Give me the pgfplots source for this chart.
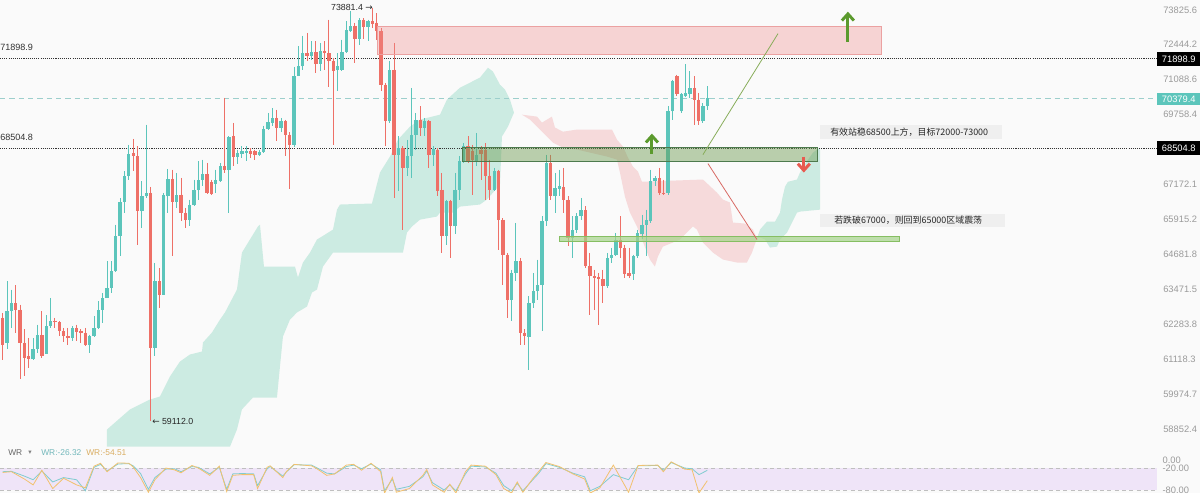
\documentclass[border=0pt]{standalone}
\usepackage{pgfplots}
\pgfplotsset{compat=1.18}
\usepackage{pgfplotstable}
\usepackage{fontspec}
\setmainfont{Liberation Sans}
\newfontfamily\cjk{Noto Sans CJK SC}
\newfontfamily\dejavu{DejaVu Sans}
\usetikzlibrary{arrows.meta}
\definecolor{bg}{HTML}{FAFAFA}
\definecolor{up}{HTML}{5CC5BB}
\definecolor{dn}{HTML}{EE7067}
\definecolor{gcloud}{HTML}{CCEBE2}
\definecolor{rcloud}{HTML}{F6DADB}
\definecolor{tickc}{HTML}{9A9A9A}
\definecolor{wrteal}{HTML}{80CCD0}
\definecolor{wrorange}{HTML}{F2C16E}
\definecolor{wrband}{HTML}{EFE4F8}
\definecolor{garrow}{HTML}{5B9A2D}
\definecolor{rarrow}{HTML}{E85A50}
\definecolor{rrect}{HTML}{F08C8C}
\definecolor{rrectb}{HTML}{EBA1A1}
\definecolor{grect}{HTML}{6A9A4F}
\definecolor{grectb}{HTML}{4D7A4D}
\definecolor{lgbar}{HTML}{A5D38A}
\definecolor{lgbarb}{HTML}{86BE62}
\definecolor{boxgray}{HTML}{EFEFEF}
\definecolor{dashteal}{HTML}{9DCFCC}

% candle segments: per candle rows (high, open) / (low, close) / break
\pgfplotstableread{
i w b
2 63759 61675
2 61451 62735
2 nan nan
3 63472 62735
3 62174 62997
3 nan nan
8 61842 61141
8 61118 61474
8 nan nan
9 62284 61451
9 61342 61918
9 nan nan
11 62589 61318
11 61285 62251
11 nan nan
12 63190 62251
12 62174 62396
12 nan nan
17 62227 61842
17 61728 62174
17 nan nan
21 61951 61618
21 61342 61894
21 nan nan
22 62566 61894
22 61874 62174
22 nan nan
23 63074 62174
23 62118 62793
23 nan nan
24 63360 62793
24 62342 63190
24 nan nan
25 64450 63190
25 63170 63531
25 nan nan
26 64450 63531
26 63360 64104
26 nan nan
27 65739 64104
27 64080 65327
27 nan nan
28 66694 65327
28 64623 66537
28 nan nan
29 67659 66537
29 66156 67501
29 nan nan
30 68639 67501
30 67355 68307
30 nan nan
33 67293 66213
33 65623 66752
33 nan nan
34 69385 66752
34 66700 66873
34 nan nan
36 64393 61507
36 61228 63759
36 nan nan
38 66873 63302
38 63280 66813
38 nan nan
39 67746 66752
39 66156 67391
39 nan nan
41 67600 66550
41 66335 66813
41 nan nan
44 66633 65915
44 65679 66454
44 nan nan
45 67355 66454
45 66393 66992
45 nan nan
46 68025 66967
46 66633 67355
46 nan nan
47 68087 67355
47 67111 67575
47 nan nan
50 67721 67209
50 66873 67355
50 nan nan
51 67966 67293
51 67256 67842
51 nan nan
53 68950 67695
53 66156 68925
53 nan nan
55 68453 68185
55 67941 68331
55 nan nan
56 68576 68307
56 68148 68391
56 nan nan
57 68576 68331
57 68025 68391
57 nan nan
60 68453 68270
60 68208 68355
60 nan nan
61 69348 68355
61 68331 69225
61 nan nan
62 69823 69225
62 69173 69471
62 nan nan
63 70013 69448
63 69348 69635
63 nan nan
65 69635 69262
65 69098 69509
65 nan nan
68 71581 68639
68 68553 71244
68 nan nan
69 72378 71244
69 71218 71604
69 nan nan
70 72799 71604
70 71476 72121
70 nan nan
72 72574 72018
72 71863 72145
72 nan nan
74 72511 71709
74 71410 72184
74 nan nan
78 72121 71476
78 70644 71604
78 nan nan
79 72641 71476
79 71410 72145
79 nan nan
80 73364 72145
80 72121 73036
80 nan nan
81 73780 72969
81 72930 73194
81 nan nan
83 73498 72668
83 72444 73431
83 nan nan
85 73431 73143
85 72574 73364
85 nan nan
90 71797 69509
90 69448 71476
90 nan nan
92 68950 68270
92 66931 68516
92 nan nan
94 68826 67782
94 67476 68208
94 nan nan
95 70774 68208
95 67416 69012
95 nan nan
96 69823 69012
96 68453 69572
96 nan nan
98 69635 69262
98 68950 69509
98 nan nan
100 68576 68270
100 67842 68478
100 nan nan
103 66633 65327
103 65034 66572
103 nan nan
105 67600 65679
105 65387 66992
105 nan nan
106 68208 66992
106 66633 68025
106 nan nan
107 68702 68025
107 67966 68576
107 nan nan
110 69075 68025
110 67842 68270
110 nan nan
114 67782 66992
114 66931 67659
114 nan nan
118 64163 63132
118 62396 64048
118 nan nan
119 65799 64048
119 63759 64450
119 nan nan
122 63244 61874
122 60791 63020
122 nan nan
123 64048 62997
123 62851 63414
123 nan nan
124 64509 63414
124 63132 63645
124 nan nan
125 66034 63645
125 62061 65855
125 nan nan
126 68270 65855
126 65679 67966
126 nan nan
128 67600 66752
128 66156 67054
128 nan nan
129 67721 67018
129 66752 67111
129 nan nan
132 66034 65270
132 64567 65563
132 nan nan
133 66156 65563
133 65446 66034
133 nan nan
134 66694 66034
134 65915 66249
134 nan nan
140 64741 63586
140 63531 64567
140 nan nan
141 64917 64567
141 64393 64682
141 nan nan
142 65446 64682
142 64623 65186
142 nan nan
146 64682 63990
146 63818 64623
146 nan nan
147 65563 64623
147 64567 65446
147 nan nan
148 66095 65387
148 65211 65739
148 nan nan
149 66274 65739
149 64623 65915
149 nan nan
150 67721 65855
150 65799 67293
150 nan nan
151 67476 67293
151 67111 67416
151 nan nan
154 70073 66873
154 66813 69884
154 nan nan
155 71089 69884
155 69572 71024
155 nan nan
157 70583 69884
157 69823 70519
157 nan nan
158 71670 70454
158 70420 70583
158 nan nan
159 71410 70519
159 70394 70774
159 nan nan
162 70201 69509
162 69448 70073
162 nan nan
163 70834 70073
163 69948 70379.4
163 nan nan
}\upc

\pgfplotstableread{
i w b
1 62681 62512
1 61118 61618
1 nan nan
4 63611 62997
4 62008 62793
4 nan nan
5 62963 62793
5 60465 61675
5 nan nan
6 62118 61675
6 60572 61175
6 nan nan
7 61842 61228
7 60847 61141
7 nan nan
10 62735 61918
10 61175 61228
10 nan nan
13 62512 62420
13 62174 62362
13 nan nan
14 62396 62362
14 61894 62061
14 nan nan
15 62174 62061
15 61695 61894
15 nan nan
16 62174 61894
16 61618 61828
16 nan nan
18 62284 62174
18 61728 62028
18 nan nan
19 62118 62051
19 61675 62008
19 nan nan
20 62174 62008
20 61562 61618
20 nan nan
31 68852 68331
31 67659 68208
31 nan nan
32 68576 68208
32 65034 66213
32 nan nan
35 67089 66873
35 59112 61507
35 nan nan
37 64221 63759
37 62851 63302
37 nan nan
40 67721 67391
40 64623 66550
40 nan nan
42 67416 66813
42 65855 66156
42 nan nan
43 66335 66156
43 65623 65915
43 nan nan
48 67966 67575
48 66849 66873
48 nan nan
49 67355 67256
49 66813 66849
49 nan nan
52 70394 67842
52 67600 67695
52 nan nan
54 69448 68950
54 67842 68185
54 nan nan
58 68516 68391
58 68148 68307
58 nan nan
59 68453 68391
59 68087 68270
59 nan nan
64 69948 69635
64 68763 69262
64 nan nan
66 69572 69509
66 68208 69012
66 nan nan
67 69098 69012
67 67018 68639
67 nan nan
71 72906 72121
71 71797 72018
71 nan nan
73 72574 72145
73 71348 71709
73 nan nan
75 72574 72184
75 71476 72121
75 nan nan
76 73431 72121
76 70812 71797
76 nan nan
77 71929 71797
77 68639 71410
77 nan nan
82 73301 73194
82 71734 72668
82 nan nan
84 73498 73431
84 72668 73143
84 nan nan
86 73881.4 73364
86 73103 73273
86 nan nan
87 73696 73301
87 72641 72969
87 nan nan
88 73103 72969
88 70644 70899
88 nan nan
89 70964 70899
89 68576 69509
89 nan nan
91 72511 71476
91 66694 68270
91 nan nan
93 68576 68516
93 65563 67782
93 nan nan
97 70073 69572
97 68950 69262
97 nan nan
99 69540 69509
99 67782 68270
99 nan nan
101 68516 68453
101 66752 66931
101 nan nan
102 67600 66992
102 64741 65327
102 nan nan
104 66633 66572
104 64567 65679
104 nan nan
108 68950 68576
108 67966 68025
108 nan nan
109 68639 68400
109 66813 68050
109 nan nan
111 68576 68453
111 67355 68307
111 nan nan
112 68702 68453
112 66633 67501
112 nan nan
113 68087 67501
113 66633 66992
113 nan nan
115 67721 67659
115 64858 65915
115 nan nan
116 65975 65915
116 63645 64682
116 nan nan
117 64741 64682
117 62512 63132
117 nan nan
120 64567 64450
120 61618 62008
120 nan nan
121 62118 62008
121 61618 61894
121 nan nan
127 68270 67966
127 66633 66752
127 nan nan
130 67782 67089
130 66156 66633
130 nan nan
131 66752 66633
131 64974 65270
131 nan nan
135 66393 66249
135 64221 64277
135 nan nan
136 64741 64277
136 62623 63932
136 nan nan
137 64163 63932
137 62793 63877
137 nan nan
138 64048 63910
138 62284 63840
138 nan nan
139 64163 63840
139 63020 63586
139 nan nan
143 66034 65186
143 64567 64917
143 nan nan
144 65034 64917
144 63877 63990
144 nan nan
145 64917 64048
145 63877 63956
145 nan nan
152 67782 67416
152 66813 66873
152 nan nan
153 67355 66873
153 66813 66830
153 nan nan
156 71283 71218
156 70454 70519
156 nan nan
160 71218 70774
160 69385 70329
160 nan nan
161 70583 70329
161 69385 69509
161 nan nan
}\dnc

\begin{document}
\begin{tikzpicture}
\fill[bg] (0,0) rectangle (900pt,369.75pt);

\begin{axis}[
  at={(0pt,369.75pt)}, anchor=north west,
  scale only axis, width=867.75pt, height=335.25pt,
  xmin=0.379, xmax=266.4, ymin=58308, ymax=74225,
  ymode=log,
  axis line style={draw=none},
  xtick=\empty,
  ytick={58852.4,59974.7,61118.3,62283.8,63471.5,64681.8,65915.2,67172.1,69758.4,71088.6,72444.2,73825.6},
  yticklabels={58852.4,59974.7,61118.3,62283.8,63471.5,64681.8,65915.2,67172.1,69758.4,71088.6,72444.2,73825.6},
  yticklabel pos=right,
  major tick length=0pt,
  ytick style={draw=none},
  yticklabel style={anchor=west, xshift=4.5pt, inner sep=0pt, font=\fontsize{7}{8}\selectfont, text=tickc},
]
% Ichimoku cloud (green, first)
\addplot[fill=gcloud, draw=none] coordinates {
(24.98,58852) (30.27,59494) (34.86,59815) (37.16,59911) (39.46,60563) (41.76,61053)
(44.06,61285) (46.82,61385) (47.05,61685) (49.12,62018) (50.96,62454) (52.10,62691)
(54.86,63472) (56.01,64752) (57.85,65211) (59.69,65668) (60.15,65739) (61.07,64267)
(68.20,64267) (68.89,63887) (70.04,64405) (71.65,64752) (73.26,65211) (74.41,65317)
(76.94,65563) (77.86,66274) (78.55,66454) (85.90,66490) (87.74,67611) (90.04,68197)
(91.88,68826) (94.64,69311) (96.94,69572) (101.54,69758) (103.15,70329) (106.13,70785)
(110.73,71167) (112.57,71553) (113.72,71399) (115.33,70899) (116.48,70709) (117.63,70329)
(118.55,69834) (117.17,69311) (115.79,68938) (115.33,67172) (112.33,66633)
(110.73,66454) (106.13,66382) (104.52,66167) (101.54,66167) (100.84,66023) (96.94,65915)
(95.10,65668) (93.95,65458) (93.03,64752) (76.94,64752) (74.64,64267) (73.26,63472)
(72.11,63370) (70.96,62895) (68.66,62691) (67.05,62454) (65.44,61885) (64.75,60890)
(64.06,59879) (58.54,59879) (56.01,59494) (54.86,58852) (53.25,58308) (24.98,58308)
} -- cycle;
% red cloud
\addplot[fill=rcloud, draw=none] coordinates {
(120.39,69758) (123.84,69684) (124.99,69460) (127.28,69684) (127.97,69274) (129.81,69124)
(133.03,69199) (141.08,69199) (142.23,68826) (143.61,68565) (144.76,68160) (145.91,67831)
(147.06,67648) (147.98,67282) (162.00,67355) (165.22,66884) (166.60,66633) (168.21,66526)
(168.90,65809) (171.66,65774) (173.50,65563) (174.42,65246)
(173.27,64752) (172.12,64405) (169.82,64405) (166.60,64509) (164.30,64752) (162.00,65105)
(160.62,65563) (159.70,65668) (158.31,65458) (156.70,65211) (155.09,65105) (152.79,64964)
(151.64,64613) (150.95,64267) (149.81,64509) (147.98,65211) (146.83,65668) (145.22,66167)
(144.07,66741) (142.92,67611) (142.23,68087) (139.93,68197) (133.03,68453) (129.81,68528)
(127.51,68714) (125.21,69087) (122.22,69572)
} -- cycle;
% green cloud (second)
\addplot[fill=gcloud, draw=none] coordinates {
(174.42,65246) (175.12,65563) (176.73,65845) (178.57,65845) (179.72,66167) (180.18,66633)
(180.87,67100) (181.56,67282) (183.63,67355) (184.32,67611) (185.01,67831) (186.16,68087)
(187.31,68343) (188.23,68453) (188.92,68528) (188.92,66274) (184.32,66202) (183.63,66167)
(181.33,65458) (179.72,65211) (179.03,64964) (177.42,64929) (176.27,65211) (175.12,65282)
} -- cycle;

% reference price lines
\addplot[black!80, line width=0.6pt, dash pattern=on 0.8pt off 0.8pt] coordinates {(0.379,71898.9) (266.4,71898.9)};
\addplot[black!80, line width=0.6pt, dash pattern=on 0.8pt off 0.8pt] coordinates {(0.379,68504.8) (266.4,68504.8)};
\addplot[dashteal, line width=0.6pt, dash pattern=on 4pt off 3pt] coordinates {(0.379,70379.4) (266.4,70379.4)};

% candles
\addplot[up, line width=0.75pt, unbounded coords=jump] table[x=i, y=w] {\upc};
\addplot[up, line width=2.5pt, unbounded coords=jump] table[x=i, y=b] {\upc};
\addplot[dn, line width=0.75pt, unbounded coords=jump] table[x=i, y=w] {\dnc};
\addplot[dn, line width=2.5pt, unbounded coords=jump] table[x=i, y=b] {\dnc};

% annotation zones
\addplot[fill=rrect, fill opacity=0.35, draw=rrectb, line width=0.7pt] coordinates {(87.28,73155) (203.14,73155) (203.14,72057) (87.28,72057)} -- cycle;
\addplot[fill=grect, fill opacity=0.45, draw=grectb, line width=0.7pt] coordinates {(106.82,68528) (188.23,68528) (188.23,67996) (106.82,67996)} -- cycle;
\addplot[fill=lgbar, fill opacity=0.7, draw=lgbarb, line width=0.7pt] coordinates {(129.12,65317) (207.28,65317) (207.28,65158) (129.12,65158)} -- cycle;
\addplot[color={rgb,255:red,136;green,173;blue,90}, line width=0.6pt] coordinates {(162.0,68270) (179.26,72878)};
\addplot[color={rgb,255:red,216;green,106;blue,100}, line width=0.6pt] coordinates {(163.15,67941) (174.42,65211)};
\draw[garrow, line width=2.2pt, -{Straight Barb[length=5pt,width=9pt]}] (axis cs:195.33,72563) -- (axis cs:195.33,73747);
\draw[garrow, line width=2.2pt, -{Straight Barb[length=5pt,width=9pt]}] (axis cs:150.27,68307) -- (axis cs:150.27,69050);
\draw[rarrow, line width=2.2pt, -{Straight Barb[length=5pt,width=9pt]}] (axis cs:185.2,68197) -- (axis cs:185.2,67611);
\end{axis}

% WR panel
\begin{axis}[
  at={(0pt,32.25pt)}, anchor=north west,
  scale only axis, width=867.75pt, height=32.25pt,
  xmin=0.379, xmax=266.4, ymin=-88.1, ymax=29.2,
  axis line style={draw=none},
  xtick=\empty,
  ytick={0,-20,-80},
  yticklabels={0.00,-20.00,-80.00},
  yticklabel pos=right,
  major tick length=0pt,
  ytick style={draw=none},
  yticklabel style={anchor=west, xshift=4pt, inner sep=0pt, font=\fontsize{7}{8}\selectfont, text=tickc},
]
\addplot[fill=wrband, draw=none] coordinates {(0.379,-20) (266.4,-20) (266.4,-80) (0.379,-80)} -- cycle;
\addplot[black!25, line width=0.5pt, dash pattern=on 3pt off 2.5pt] coordinates {(0.379,-20) (266.4,-20)};
\addplot[black!25, line width=0.5pt, dash pattern=on 3pt off 2.5pt] coordinates {(0.379,-80) (266.4,-80)};
\addplot[wrteal, line width=0.6pt] coordinates {
(1,-30) (3,-29) (6,-42) (8,-52) (10,-28) (12.5,-58) (15,-46) (18,-52) (20,-82) (22,-18)
(23.5,-10) (25,-28) (27.5,-9) (30,-8) (31,-14) (32.7,-35) (34.5,-78) (36,-46) (38.5,-23)
(40.5,-22) (42,-30) (44.5,-16) (46,-18) (48.6,-36) (50.8,-18) (52.5,-78) (53.9,-36) (56,-35)
(58.7,-36) (59.6,-68) (61.8,-22) (62.5,-16) (65.4,-42) (66.2,-31) (68,-11) (72,-12) (73,-18)
(75.5,-34) (77.3,-36) (80,-16) (81.7,-12) (83.5,-22) (85.7,-9) (87.9,-25) (88.8,-82)
(90.6,-50) (91.5,-78) (94.5,-70) (97.6,-44) (98.5,-28) (99.8,-60) (102.5,-80) (103.8,-66)
(105.2,-82) (107.4,-36) (108.7,-15) (112,-17) (114.4,-34) (116.2,-68) (118,-82) (119.3,-62)
(120.6,-82) (122.8,-53) (124.2,-35) (125.9,-8) (129,-18) (132.1,-34) (134.8,-44) (136.1,-82)
(138.3,-70) (141.4,-38) (144.9,-52) (147.1,-14) (151.6,-13) (152.9,-26) (154.7,-5)
(157.8,-20) (159.5,-22) (161.1,-38) (163,-26.32)
};
\addplot[wrorange, line width=0.6pt] coordinates {
(1,-32) (3,-30) (6,-50) (8,-66) (10,-26) (12.5,-76) (15,-48) (18,-66) (20,-74) (22,-15)
(23.5,-7) (25,-30) (27.5,-6) (30,-7) (31,-17) (32.7,-46) (34.5,-86) (36,-52) (38.5,-20)
(40.5,-25) (42,-33) (44.5,-13) (46,-20) (48.6,-40) (50.8,-15) (52.5,-84) (53.9,-40) (56,-38)
(58.7,-38) (59.6,-76) (61.8,-18) (62.5,-14) (65.4,-46) (66.2,-30) (68,-10) (72,-14) (73,-20)
(75.5,-40) (77.3,-36) (80,-12) (81.7,-10) (83.5,-26) (85.7,-7) (87.9,-30) (88.8,-88)
(90.6,-46) (91.5,-86) (94.5,-76) (97.6,-40) (98.5,-24) (99.8,-66) (102.5,-86) (103.8,-64)
(105.2,-88) (107.4,-30) (108.7,-12) (112,-15) (114.4,-38) (116.2,-76) (118,-88) (119.3,-58)
(120.6,-86) (122.8,-50) (124.2,-30) (125.9,-5) (129,-16) (132.1,-36) (134.8,-50) (136.1,-88)
(138.3,-74) (141.4,-12) (144.9,-86) (147.1,-13) (151.6,-12) (152.9,-30) (154.7,-3)
(157.8,-23) (159.5,-25) (161.1,-88) (163,-54.51)
};
\end{axis}

% texts and labels
\node[anchor=west, inner sep=0pt, text=black!80, font=\fontsize{6.8}{8}\selectfont] at (0pt,334.5pt) {71898.9};
\node[anchor=west, inner sep=0pt, text=black!80, font=\fontsize{6.8}{8}\selectfont] at (0pt,267pt) {68504.8};
\node[anchor=east, inner sep=0pt, text=black!85, font=\fontsize{6.6}{8}\selectfont] at (279.75pt,364.1pt) {73881.4 {\dejavu →}};
\node[anchor=west, inner sep=0pt, text=black!85, font=\fontsize{6.6}{8}\selectfont] at (114pt,54pt) {{\dejavu ←} 59112.0};

\node[fill=black, text=white, inner sep=0pt, minimum width=32.25pt, minimum height=10.5pt, anchor=west, font=\fontsize{7}{8}\selectfont] at (867.75pt,325.5pt) {71898.9};
\node[fill=up, text=white, inner sep=0pt, minimum width=32.25pt, minimum height=9pt, anchor=west, font=\fontsize{7}{8}\selectfont] at (867.75pt,295.5pt) {70379.4};
\node[fill=black, text=white, inner sep=0pt, minimum width=32.25pt, minimum height=10.5pt, anchor=west, font=\fontsize{7}{8}\selectfont] at (867.75pt,258.75pt) {68504.8};

\fill[boxgray] (615pt,265.5pt) rectangle (751.5pt,276pt);
\node[anchor=west, inner sep=0pt, text=black!85, font=\cjk\fontsize{6.7}{8}\selectfont] at (622.5pt,270.75pt) {有效站稳68500上方，目标72000-73000};
\fill[boxgray] (615pt,199.5pt) rectangle (753.75pt,209.25pt);
\node[anchor=west, inner sep=0pt, text=black!85, font=\cjk\fontsize{6.7}{8}\selectfont] at (625.5pt,204.4pt) {若跌破67000，则回到65000区域震荡};

\node[anchor=west, inner sep=0pt, text=black!60, font=\fontsize{6.3}{7}\selectfont] at (6pt,30pt) {WR};
\node[anchor=west, inner sep=0pt, text=black!50, font=\dejavu\fontsize{5}{6}\selectfont] at (21pt,30pt) {▾};
\node[anchor=west, inner sep=0pt, text=wrteal!90!black, font=\fontsize{6.3}{7}\selectfont] at (30.75pt,30pt) {WR:-26.32};
\node[anchor=west, inner sep=0pt, text=wrorange!90!black, font=\fontsize{6.3}{7}\selectfont] at (64.5pt,30pt) {WR:-54.51};

\pgfresetboundingbox
\path (0,0) rectangle (900pt,369.75pt);
\end{tikzpicture}
\end{document}
